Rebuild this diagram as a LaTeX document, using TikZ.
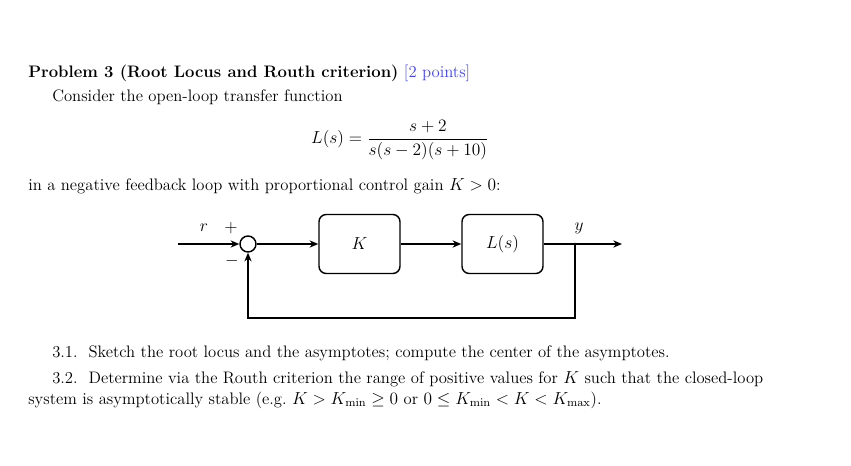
\documentclass[tikz,border=0pt]{standalone}
\usepackage{amsmath}
\usetikzlibrary{arrows.meta}
\begin{document}
\begin{tikzpicture}[x=0.69pt,y=-0.69pt,font=\fontsize{11.5}{14}\selectfont,
  txt/.style={anchor=base west,inner sep=0pt},
  blk/.style={draw,line width=1pt,rounded corners=5pt,minimum width=81*0.69pt,minimum height=59*0.69pt,font=\fontsize{13}{15}\selectfont},
  sig/.style={line width=1pt,-{Stealth[length=6pt,width=5pt]}},
  ln/.style={line width=1pt}]
\useasboundingbox (0,0) rectangle (851,466);
\node[txt] (t1) at (28,77) {\textbf{Problem 3 (Root Locus and Routh criterion)} \textcolor{blue!75!white}{[2 points]}};
\node[txt] (t2) at (52,101) {Consider the open-loop transfer function};
\node (eq) at (400,140) {$\displaystyle L(s)=\frac{s+2}{s(s-2)(s+10)}$};
\node[txt] (t3) at (28,190) {in a negative feedback loop with proportional control gain $K>0$:};
\node[draw,line width=1pt,circle,minimum size=16*0.69pt,inner sep=0pt] (sum) at (248,244) {};
\node[blk] (k) at (359.5,244) {$K$};
\node[blk] (l) at (502.5,244) {$L(s)$};
\coordinate (in) at (178,244);
\coordinate (br) at (575,244);
\coordinate (out) at (622,244);
\coordinate (fb) at (248,318);
\draw[sig] (in) -- (sum);
\draw[sig] (sum) -- (k);
\draw[sig] (k) -- (l);
\draw[sig] (l) -- (out);
\draw[sig] (br) |- (fb) -- (sum);
\fill (br) circle (1pt);
\node (r) at (204,228) {$r$};
\node (pl) at (231,228) {$+$};
\node (mi) at (232,261) {$-$};
\node (y) at (579,228) {$y$};
\node[txt] (i1) at (52,357) {3.1.\ \ Sketch the root locus and the asymptotes; compute the center of the asymptotes.};
\node[txt] (i2) at (52,383) {3.2.\ \ Determine via the Routh criterion the range of positive values for $K$ such that the closed-loop};
\node[txt] (i3) at (28,404) {system is asymptotically stable (e.g.\ $K>K_{\min}\geq 0$ or $0\leq K_{\min}<K<K_{\max}$).};
\end{tikzpicture}
\end{document}
